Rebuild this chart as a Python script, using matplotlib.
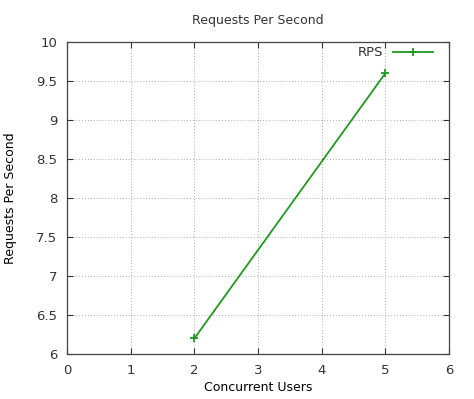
import matplotlib

matplotlib.use("Agg")
import matplotlib.pyplot as plt

plt.rcParams.update(
    {
        "font.family": "DejaVu Sans",
        "font.size": 9,
        "text.color": "#333333",
        "xtick.color": "#333333",
        "ytick.color": "#333333",
    }
)

users = [2, 5]
rps = [6.2, 9.6]
x_ticks = [0, 1, 2, 3, 4, 5, 6]
y_ticks = [6, 6.5, 7, 7.5, 8, 8.5, 9, 9.5, 10]

GREEN = "#1f9a1f"

fig = plt.figure(figsize=(4.74, 3.99), dpi=100)
ax = fig.add_axes([0.1414, 0.1128, 0.8059, 0.7819])

ax.plot(users, rps, color=GREEN, linewidth=1.3, marker="+", markersize=6,
        markeredgewidth=1.3, label="RPS")

ax.set_xlim(0, 6)
ax.set_ylim(6, 10)
ax.set_xticks(x_ticks)
ax.set_yticks(y_ticks)
ax.set_yticklabels([f"{v:g}" for v in y_ticks])
ax.tick_params(direction="in", top=True, right=True, length=4, width=0.8,
               labelsize=9.5, pad=7)
ax.grid(True, linestyle=(0, (1, 2)), color="#aaaaaa", linewidth=0.7)
ax.set_axisbelow(True)
for s in ax.spines.values():
    s.set_color("#444444")
    s.set_linewidth(0.9)

ax.set_title("Requests Per Second", fontsize=9, pad=13, color="#333333")
ax.set_xlabel("Concurrent Users", fontsize=9, labelpad=3)
ax.set_ylabel("Requests Per Second", fontsize=9, labelpad=14)

ax.legend(loc="upper right", frameon=False, markerfirst=False, handlelength=3.0,
          fontsize=9.5, borderaxespad=0.3, handletextpad=0.8,
          bbox_to_anchor=(0.982, 1.016))

fig.savefig("out.png", dpi=100)
